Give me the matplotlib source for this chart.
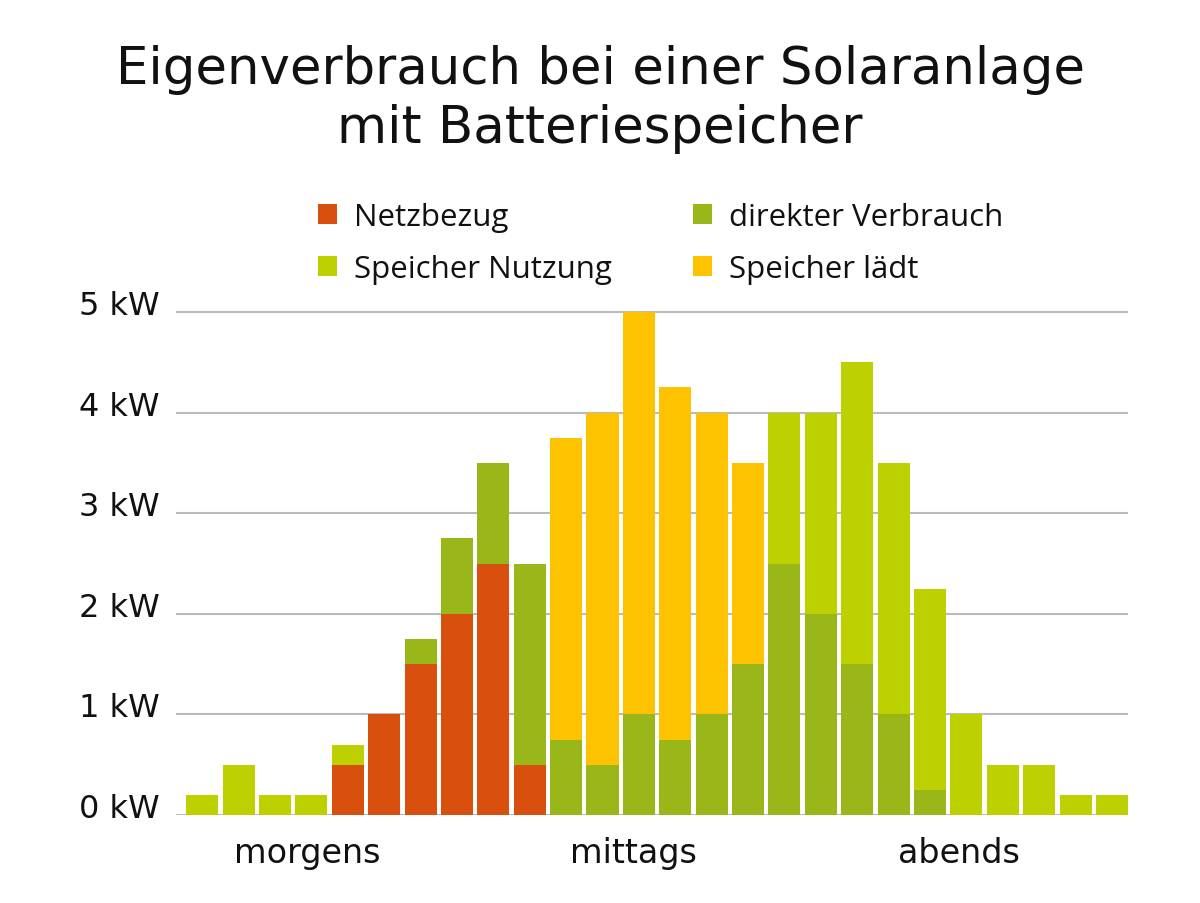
import numpy as np
import matplotlib
matplotlib.use('Agg')
import matplotlib.pyplot as plt
from matplotlib.transforms import ScaledTranslation

# values per time slot (kW)
netzbezug = [0, 0, 0, 0, 0.5, 1.0, 1.5, 2.0, 2.5, 0.5, 0, 0, 0, 0, 0, 0, 0, 0, 0, 0, 0, 0, 0, 0, 0, 0]
direkt = [0, 0, 0, 0, 0, 0, 0.25, 0.75, 1.0, 2.0, 0.75, 0.5, 1.0, 0.75, 1.0, 1.5, 2.5, 2.0, 1.5, 1.0, 0.25, 0, 0, 0, 0, 0]
nutzung = [0.2, 0.5, 0.2, 0.2, 0.2, 0, 0, 0, 0, 0, 0, 0, 0, 0, 0, 0, 1.5, 2.0, 3.0, 2.5, 2.0, 1.0, 0.5, 0.5, 0.2, 0.2]
laden = [0, 0, 0, 0, 0, 0, 0, 0, 0, 0, 3.0, 3.5, 4.0, 3.5, 3.0, 2.0, 0, 0, 0, 0, 0, 0, 0, 0, 0, 0]

yticks = [0, 1, 2, 3, 4, 5]
ylabels = ['0 kW', '1 kW', '2 kW', '3 kW', '4 kW', '5 kW']
xlabel_pos = [2.9, 11.85, 20.8]
xlabels = ['morgens', 'mittags', 'abends']

c_netz = '#D9500E'
c_direkt = '#9AB71A'
c_nutzung = '#BED100'
c_laden = '#FDC300'

plt.rcParams['font.family'] = ['Open Sans', 'DejaVu Sans']

fig = plt.figure(figsize=(12, 9.04), dpi=100)
ax = fig.add_axes([176/1200, 88/904, (1128-176)/1200, 513/904])

x = np.arange(len(netzbezug))
w = 0.88
b1 = ax.bar(x, netzbezug, w, color=c_netz, label='Netzbezug')
base = np.array(netzbezug)
b2 = ax.bar(x, direkt, w, bottom=base, color=c_direkt, label='direkter Verbrauch')
base = base + np.array(direkt)
b3 = ax.bar(x, nutzung, w, bottom=base, color=c_nutzung, label='Speicher Nutzung')
base = base + np.array(nutzung)
b4 = ax.bar(x, laden, w, bottom=base, color=c_laden, label='Speicher lädt')

ax.set_xlim(-0.72, 25.44)
ax.set_ylim(0, 5.1)
ax.set_yticks(yticks)
ax.set_yticklabels(ylabels, fontsize=23, color='#111111', family='DejaVu Sans')
ax.set_xticks(xlabel_pos)
ax.set_xticklabels(xlabels, fontsize=24, color='#111111', family='DejaVu Sans')
ax.tick_params(axis='both', length=0)
ax.tick_params(axis='y', pad=12)
ax.tick_params(axis='x', pad=15)
for lab in ax.get_yticklabels():
    lab.set_transform(lab.get_transform() + ScaledTranslation(0, 0.1, fig.dpi_scale_trans))

ax.yaxis.grid(True, color='#BBBBBB', linewidth=1.5)
ax.set_axisbelow(True)
for s in ax.spines.values():
    s.set_visible(False)

leg = fig.legend([b1, b3, b2, b4],
                 ['Netzbezug', 'Speicher Nutzung', 'direkter Verbrauch', 'Speicher lädt'],
                 ncol=2, loc='upper left', bbox_to_anchor=(290/1200, 1 - 175/904),
                 frameon=False, fontsize=22.5, handlelength=0.6, handleheight=0.6,
                 handletextpad=0.55, columnspacing=2.6, labelspacing=0.7)
for t in leg.get_texts():
    t.set_color('#111111')

fig.text(0.5, 1 - 70/904, 'Eigenverbrauch bei einer Solaranlage', ha='center', va='center',
         fontsize=37, color='#111111', family='DejaVu Sans')
fig.text(0.5, 1 - 129/904, 'mit Batteriespeicher', ha='center', va='center',
         fontsize=37, color='#111111', family='DejaVu Sans')

fig.savefig('out.png', dpi=100, facecolor='white')
